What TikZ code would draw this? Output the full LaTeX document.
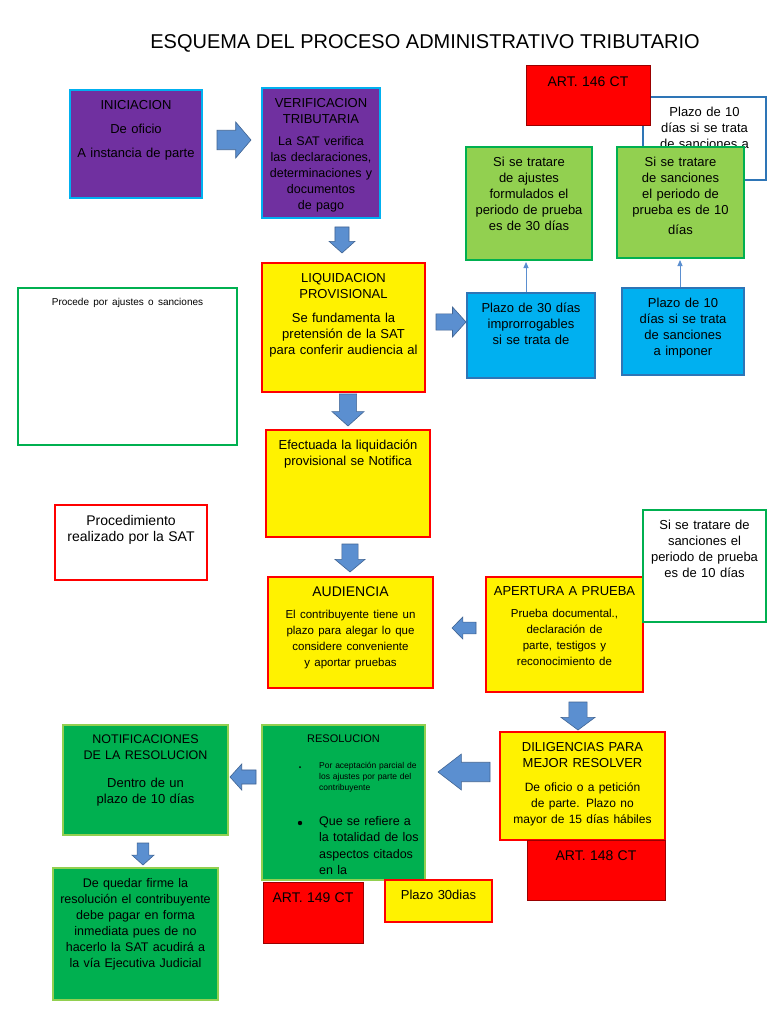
\documentclass[tikz,border=0pt]{standalone}
\usepackage{fontspec}
\setmainfont{Liberation Sans}
\usetikzlibrary{arrows.meta}
\definecolor{purp}{HTML}{7030A0}
\definecolor{cy}{HTML}{00B0F0}
\definecolor{dblue}{HTML}{2E75B6}
\definecolor{lgreen}{HTML}{92D050}
\definecolor{dgreen}{HTML}{00B050}
\definecolor{ablue}{HTML}{5B8FD0}
\hyphenpenalty=10000 \exhyphenpenalty=10000
\newcommand\bx[7]{\node[#6,minimum width={(#4-#2)*1pt},minimum height={(#5-#3)*1pt}] (#1) at ({(#2+#4)/2},{(#3+#5)/2}) {};
\node[txt,below,text width={(#4-#2-14)*1pt}] (#1t) at ([yshift=-5pt]#1.north) {#7};}
% block arrow: name, cx, cy, length, width, rotation
\newcommand\barrow[6]{\coordinate (#1) at (#2,#3);
\draw[draw=ablue!70!black,fill=ablue,line width=0.6pt,shift={(#1)},rotate=#6]
 ({-#4/2},{-0.27*#5}) -- ({#4/2-0.45*#4},{-0.27*#5}) -- ({#4/2-0.45*#4},{-#5/2}) -- ({#4/2},0)
 -- ({#4/2-0.45*#4},{#5/2}) -- ({#4/2-0.45*#4},{0.27*#5}) -- ({-#4/2},{0.27*#5}) -- cycle;}
\begin{document}
\begin{tikzpicture}[x=1pt,y=-1pt,
 txt/.style={align=center,font=\fontsize{13}{16}\selectfont,inner sep=6pt},
 purple/.style={draw=cy,line width=2.5pt,fill=purp},
 yel/.style={draw=red,line width=2.5pt,fill=yellow},
 blu/.style={draw=dblue,line width=2pt,fill=cy},
 lg/.style={draw=dgreen,line width=2.5pt,fill=lgreen},
 dg/.style={draw=lgreen,line width=2.5pt,fill=dgreen},
 rd/.style={draw=red!60!black,line width=1pt,fill=red},
 wr/.style={draw=red,line width=2pt,fill=white},
 wg/.style={draw=dgreen,line width=1.5pt,fill=white},
 wb/.style={draw=dblue,line width=2pt,fill=white}]
\useasboundingbox (0,0) rectangle (768,1024);
\fill[white] (0,0) rectangle (768,1024);
\node[font=\fontsize{20}{23}\selectfont] (title) at (425,43) {ESQUEMA DEL PROCESO ADMINISTRATIVO TRIBUTARIO};
\bx{ini}{70}{90}{202}{198}{purple}{INICIACION\\[8pt]De oficio\\[8pt]A instancia de parte}
\bx{ver}{262}{88}{380}{218}{purple}{VERIFICACION TRIBUTARIA\\[6pt]{\fontsize{12.5}{16}\selectfont La SAT verifica las declaraciones, determinaciones y documentos de pago}}
\barrow{a1}{234}{140}{34}{36}{0}
\barrow{a2}{342}{240}{26}{26}{270}
\bx{liq}{262}{263}{425}{392}{yel}{LIQUIDACION PROVISIONAL\\[8pt]Se fundamenta la pretensión de la SAT para conferir audiencia al}
\barrow{a3}{451}{322}{30}{30}{0}
\bx{p30}{467}{293}{595}{378}{blu}{Plazo de 30 días improrrogables si se trata de}
\bx{p10}{622}{288}{744}{375}{blu}{Plazo de 10 días si se trata de sanciones a imponer}
\bx{wp}{643}{97}{766}{180}{wb}{Plazo de 10 días si se trata de sanciones a}
\bx{art146}{526}{66}{650}{126}{rd}{{\fontsize{14}{17}\selectfont ART. 146 CT}}
\bx{g1}{466}{147}{592}{260}{lg}{Si se tratare de ajustes formulados el periodo de prueba es de 30 días}
\bx{g2}{617}{147}{744}{258}{lg}{Si se tratare de sanciones el periodo de prueba es de 10\\[4pt]días}
\draw[-{Triangle[length=6pt,width=5pt]},ablue,line width=1pt] (p30.north -| 526,0) -- (526,262);
\draw[-{Triangle[length=6pt,width=5pt]},ablue,line width=1pt] (p10.north -| 680,0) -- (680,260);
\bx{proc}{18}{288}{237}{445}{wg}{{\fontsize{10}{12}\selectfont Procede por ajustes o sanciones}}
\barrow{a4}{348}{410}{32}{32}{270}
\bx{efe}{266}{430}{430}{537}{yel}{Efectuada la liquidación provisional se Notifica}
\bx{real}{55}{505}{207}{580}{wr}{{\fontsize{14}{17}\selectfont Procedimiento realizado por la SAT}}
\barrow{a5}{350}{558}{28}{30}{270}
\bx{aud}{268}{577}{433}{688}{yel}{{\fontsize{14}{17}\selectfont AUDIENCIA}\\[6pt]{\fontsize{11.5}{16}\selectfont El contribuyente tiene un plazo para alegar lo que considere conveniente y aportar pruebas}}
\bx{ape}{486}{577}{643}{692}{yel}{APERTURA A PRUEBA\\[6pt]{\fontsize{11.5}{16}\selectfont Prueba documental., declaración de parte, testigos y reconocimiento de}}
\bx{sanc}{643}{510}{766}{622}{wg}{Si se tratare de sanciones el periodo de prueba es de 10 días}
\barrow{a6}{464}{628}{24}{22}{180}
\barrow{a7}{578}{716}{28}{34}{270}
\bx{dil}{500}{732}{665}{840}{yel}{DILIGENCIAS PARA MEJOR RESOLVER\\[8pt]{\fontsize{12}{16}\selectfont De oficio o a petición de parte. Plazo no mayor de 15 días hábiles}}
\bx{art148}{527}{840}{665}{900}{rd}{{\fontsize{14}{17}\selectfont ART. 148 CT}}
\barrow{a8}{464}{772}{52}{36}{180}
\bx{res}{262}{725}{425}{880}{dg}{{\fontsize{11}{14}\selectfont RESOLUCION}}
\node[anchor=north west,font=\fontsize{8.5}{11}\selectfont,text width=100pt,align=left,inner sep=0pt] (r1) at (319,762) {Por aceptación parcial de los ajustes por parte del contribuyente};
\node[anchor=north west,font=\fontsize{12.5}{16.5}\selectfont,text width=100pt,align=left,inner sep=0pt] (r2) at (319,816) {Que se refiere a la totalidad de los aspectos citados en la};
\fill (300,767) circle (1pt) (300,823) circle (2.2pt);
\bx{art149}{263}{882}{363}{943}{rd}{{\fontsize{14}{20}\selectfont ART. 149 CT}}
\bx{p30d}{385}{880}{492}{922}{yel}{Plazo 30dias}
\barrow{a9}{243}{777}{26}{26}{180}
\bx{not}{63}{725}{228}{835}{dg}{{\fontsize{12.5}{16}\selectfont NOTIFICACIONES DE LA RESOLUCION}\\[12pt]Dentro de un plazo de 10 días}
\barrow{a10}{143}{854}{22}{22}{270}
\bx{fir}{53}{868}{218}{1000}{dg}{{\fontsize{12.5}{16}\selectfont De quedar firme la resolución el contribuyente debe pagar en forma inmediata pues de no hacerlo la SAT acudirá a la vía Ejecutiva Judicial}}
\end{tikzpicture}
\end{document}
